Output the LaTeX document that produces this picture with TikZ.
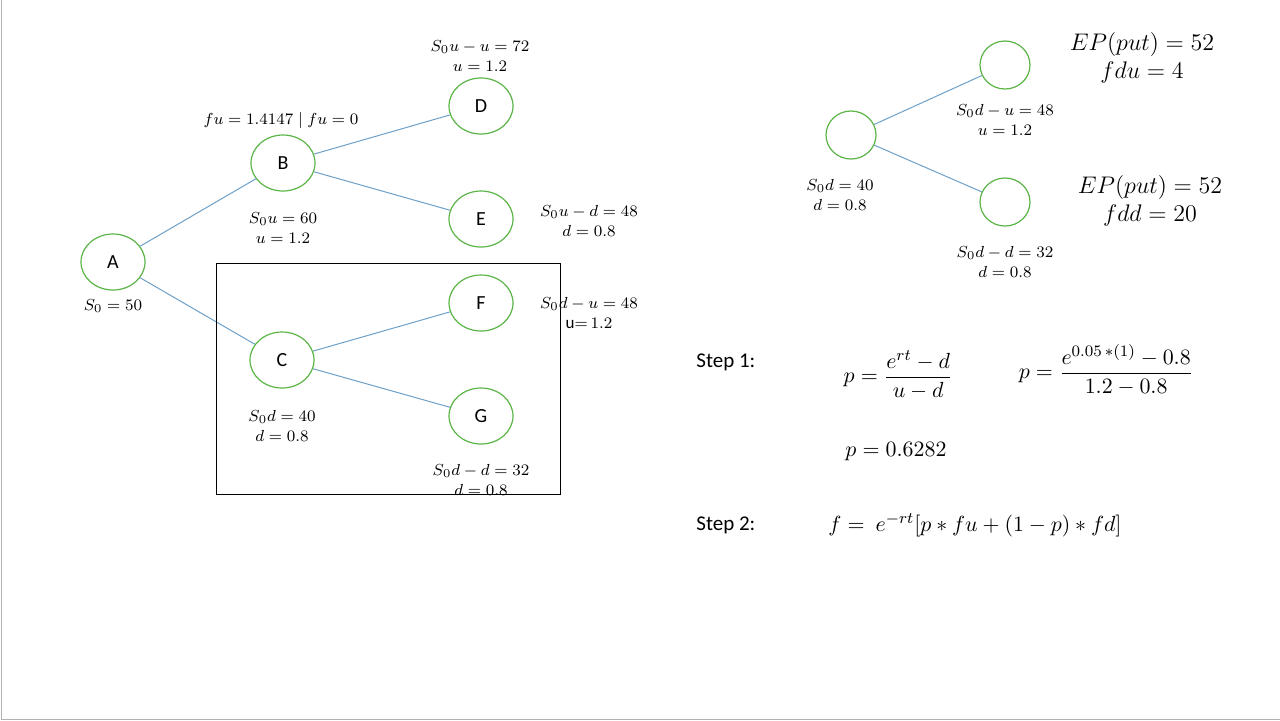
\documentclass[tikz,border=0pt]{standalone}
\usepackage{amsmath}
\usepackage{fontspec}
\setmainfont{Carlito}
\usetikzlibrary{shapes.geometric}
\definecolor{edc}{RGB}{110,160,200}
\definecolor{ndc}{RGB}{90,180,70}
\tikzset{
  nd/.style={ellipse,draw=ndc,line width=0.6pt,minimum width=32pt,minimum height=28pt,inner sep=0pt,font=\fontsize{10}{12}\selectfont},
  nds/.style={ellipse,draw=ndc,line width=0.6pt,minimum width=25pt,minimum height=24pt,inner sep=0pt},
  ed/.style={draw=edc,line width=0.5pt},
  lb/.style={font=\fontsize{8.5}{10}\selectfont,align=center,inner sep=0pt},
  big/.style={font=\fontsize{11.5}{14}\selectfont,align=center,inner sep=0pt},
  fm/.style={font=\fontsize{11}{13}\selectfont,inner sep=0pt},
  st/.style={font=\fontsize{10.5}{12}\selectfont,anchor=west,inner sep=0pt},
}
\begin{document}
\begin{tikzpicture}[x=0.5pt,y=-0.5pt]
\useasboundingbox[fill=white] (0,0) rectangle (1280,720);
\draw[gray!60,line width=0.5pt] (1,0) -- (1,719) -- (1280,719);
\node[nd] (A) at (113,262) {A};
\node[nd] (B) at (283,163) {B};
\node[nd] (D) at (481,106) {D};
\node[nd] (E) at (481,219) {E};
\node[nd] (C) at (282,360) {C};
\node[nd] (F) at (481,303) {F};
\node[nd] (G) at (481,416) {G};
\draw[ed] (A) -- (B); \draw[ed] (A) -- (C);
\draw[ed] (B) -- (D); \draw[ed] (B) -- (E);
\draw[ed] (C) -- (F); \draw[ed] (C) -- (G);
\draw[line width=0.5pt] (216,263) rectangle (560,494);
\node[lb] (lA) at (113,306) {$S_0=50$};
\node[lb] (lB1) at (281,120) {$fu=1.4147\mid fu=0$};
\node[lb] (lB) at (283,228) {$S_0u=60$\\$u=1.2$};
\node[lb] (lD) at (480,56) {$S_0u-u=72$\\$u=1.2$};
\node[lb] (lE) at (589,221) {$S_0u-d=48$\\$d=0.8$};
\node[lb] (lF) at (589,313) {$S_0d-u=48$\\$\mathrm{u}{=}\,1.2$};
\node[lb] (lC) at (282,426) {$S_0d=40$\\$d=0.8$};
\node[lb] (lG) at (481,480) {$S_0d-d=32$\\$d=0.8$};
% right tree
\node[nds] (R) at (851,135) {};
\node[nds] (R1) at (1005,65) {};
\node[nds] (R2) at (1005,202) {};
\draw[ed] (R) -- (R1); \draw[ed] (R) -- (R2);
\node[lb] (lR) at (840,195) {$S_0d=40$\\$d=0.8$};
\node[lb] (lR1) at (1005,120) {$S_0d-u=48$\\$u=1.2$};
\node[lb] (lR2) at (1005,262) {$S_0d-d=32$\\$d=0.8$};
\node[big] (ep1) at (1142,58) {$EP(put)=52$\\$fdu=4$};
\node[big] (ep2) at (1150,201) {$EP(put)=52$\\$fdd=20$};
% steps
\node[st] (s1) at (696,362) {Step 1:};
\node[fm] (f1) at (898,375) {$p=\dfrac{e^{rt}-d}{u-d}$};
\node[fm] (f2) at (1106,370) {$p=\dfrac{e^{0.05\,*(1)}-0.8}{1.2-0.8}$};
\node[fm] (f3) at (896,452) {$p=0.6282$};
\node[st] (s2) at (696,525) {Step 2:};
\node[fm] (f4) at (975,525) {$f=\ e^{-rt}[p*fu+(1-p)*fd]$};
\end{tikzpicture}
\end{document}
